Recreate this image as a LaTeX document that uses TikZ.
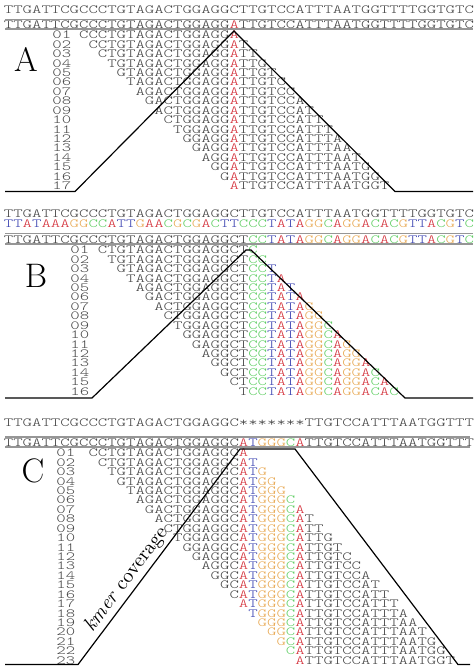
\documentclass[tikz,border=0pt]{standalone}
\usepackage{fontspec}
\usepackage{xstring}
\usetikzlibrary{calc}

\newfontfamily\seqfont[FakeStretch=1.444]{lmmonolt10-regular.otf}

\definecolor{ntA}{RGB}{212,52,62}
\definecolor{ntC}{RGB}{96,206,100}
\definecolor{ntG}{RGB}{232,170,86}
\definecolor{ntT}{RGB}{62,70,178}
\definecolor{seqgray}{RGB}{70,70,70}
\definecolor{rulegray}{RGB}{150,150,150}

\def\topseq{TTGATTCGCCCTGTAGACTGGAGGCTTGTCCATTTAATGGTTTTGGTGTC}
\def\altseq{TTATAAAGGCCATTGAACGCGACTTCCCTATAGGCAGGACACGTTACGTC}
\def\gapseq{TTGATTCGCCCTGTAGACTGGAGGC*******TTGTCCATTTAATGGTTT}
\def\seqA{TTGATTCGCCCTGTAGACTGGAGGATTGTCCATTTAATGGTTTTGGTGTC}
\def\seqB{TTGATTCGCCCTGTAGACTGGAGGCTCCTATAGGCAGGACACGTTACGTC}
\def\seqC{TTGATTCGCCCTGTAGACTGGAGGCATGGGCATTGTCCATTTAATGGTTT}

% colour every base of #1
\def\colseq#1{\colseqi#1\relax}
\def\colseqi#1{\ifx#1\relax\else\textcolor{nt#1}{#1}\expandafter\colseqi\fi}

% bases #2..#3 of #1, with bases #4..#5 coloured
\newcommand\readrow[5]{%
  \pgfmathtruncatemacro\cutL{min(#3,#4-1)}%
  \pgfmathtruncatemacro\cutMa{max(#2,#4)}%
  \pgfmathtruncatemacro\cutMb{min(#3,#5)}%
  \pgfmathtruncatemacro\cutR{max(#2,#5+1)}%
  \StrMid{#1}{#2}{\cutL}[\partL]%
  \StrMid{#1}{\cutMa}{\cutMb}[\partM]%
  \StrMid{#1}{\cutR}{#3}[\partR]%
  \textcolor{seqgray}{\partL}\expandafter\colseq\expandafter{\partM}\textcolor{seqgray}{\partR}}

\begin{document}
\begin{tikzpicture}[x=0.5pt, y=-0.5pt,
  seqtext/.style={anchor=base west, inner sep=0pt, font=\seqfont\fontsize{6.2}{7}\selectfont},
  panel/.style={font=\fontsize{17}{17}\selectfont, inner sep=0pt},
  rule/.style={rulegray, line width=0.8pt},
  cover/.style={line width=0.6pt, line join=miter}]
  \useasboundingbox (0,0) rectangle (474,668);

  % A
  \node[seqtext] (topA) at (3.5,13.8) {\textcolor{seqgray}{\topseq}};
  \draw[rule] (5,19.5) -- (473,19.5);
  \node[seqtext] (consA) at (3.5,28.3) {\readrow{\seqA}{1}{50}{25}{25}};
  \draw[rule] (5,29) -- (473,29);
  \foreach \k in {1,...,17}{
    \pgfmathtruncatemacro\firstb{8+\k}
    \pgfmathtruncatemacro\lastb{24+\k}
    \node[seqtext] (ra\k) at ({3.5+9.4*(\firstb-1)},{38.8+9.43*(\k-1)}) {\readrow{\seqA}{\firstb}{\lastb}{25}{25}};
    \node[seqtext] (na\k) at (52,{38.8+9.43*(\k-1)}) {\textcolor{seqgray}{\ifnum\k<10 0\fi\k}};
  }
  \node[panel] (labA) at (26,59) {A};
  \coordinate (ca0) at (5,191.5);
  \coordinate (ca1) at (75,191.5);
  \coordinate (ca2) at (234,31);
  \coordinate (ca3) at (395,191.5);
  \coordinate (ca4) at (473,191.5);
  \draw[cover] (ca0) -- (ca1) -- (ca2) -- (ca3) -- (ca4);

  % B
  \node[seqtext] (topB) at (3.5,217.8) {\textcolor{seqgray}{\topseq}};
  \node[seqtext] (altB) at (3.5,227.3) {\colseq{TTATAAAGGCCATTGAACGCGACTTCCCTATAGGCAGGACACGTTACGTC}};
  \draw[rule] (5,233.5) -- (473,233.5);
  \node[seqtext] (consB) at (3.5,243.3) {\readrow{\seqB}{1}{50}{27}{50}};
  \draw[rule] (5,244) -- (473,244);
  \foreach \k in {1,...,16}{
    \pgfmathtruncatemacro\firstb{10+\k}
    \pgfmathtruncatemacro\lastb{26+\k}
    \node[seqtext] (rb\k) at ({3.5+9.4*(\firstb-1)},{253.8+9.43*(\k-1)}) {\readrow{\seqB}{\firstb}{\lastb}{27}{50}};
    \node[seqtext] (nb\k) at (70,{253.8+9.43*(\k-1)}) {\textcolor{seqgray}{\ifnum\k<10 0\fi\k}};
  }
  \node[panel] (labB) at (36,276) {B};
  \coordinate (cb0) at (5,398);
  \coordinate (cb1) at (92,398);
  \coordinate (cb2) at (246,250);
  \coordinate (cb3) at (251,250);
  \coordinate (cb4) at (405,398);
  \coordinate (cb5) at (473,398);
  \draw[cover] (cb0) -- (cb1) -- (cb2) -- (cb3) -- (cb4) -- (cb5);

  % C
  \node[seqtext] (topC) at (3.5,426.8) {\textcolor{seqgray}{\gapseq}};
  \draw[rule] (5,437) -- (470,437);
  \node[seqtext] (consC) at (3.5,446.3) {\readrow{\seqC}{1}{50}{26}{32}};
  \draw[rule] (5,447) -- (470,447);
  \foreach \k in {1,...,23}{
    \pgfmathtruncatemacro\firstb{9+\k}
    \pgfmathtruncatemacro\lastb{25+\k}
    \node[seqtext] (rc\k) at ({3.5+9.4*(\firstb-1)},{456.8+9.43*(\k-1)}) {\readrow{\seqC}{\firstb}{\lastb}{26}{32}};
    \node[seqtext] (nc\k) at (56,{456.8+9.43*(\k-1)}) {\textcolor{seqgray}{\ifnum\k<10 0\fi\k}};
  }
  \node[panel] (labC) at (33,471) {C};
  \coordinate (cc0) at (5,664.5);
  \coordinate (cc1) at (78,664.5);
  \coordinate (cc2) at (240,449);
  \coordinate (cc3) at (295,449);
  \coordinate (cc4) at (458,664.5);
  \coordinate (cc5) at (470,664.5);
  \draw[cover] (cc0) -- (cc1) -- (cc2) -- (cc3) -- (cc4) -- (cc5);
  \path (cc1) -- (cc2) node[pos=0.36, sloped, anchor=south, inner sep=1.5pt] (kmer) {\textit{kmer} coverage};
\end{tikzpicture}
\end{document}
